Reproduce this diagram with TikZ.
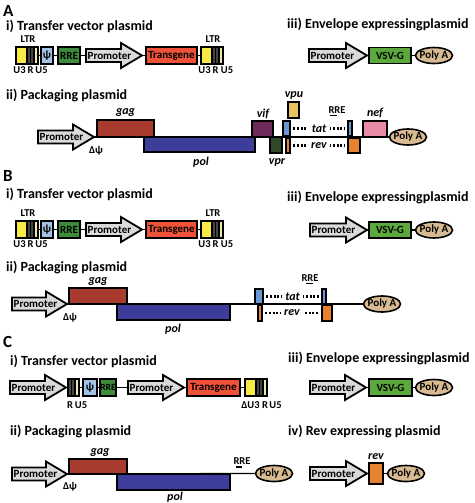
\documentclass[tikz,border=0pt]{standalone}
\usepackage{fontspec}
\setmainfont{Carlito}
\usetikzlibrary{shapes.geometric,backgrounds}
\definecolor{ltry}{HTML}{F7E948}
\definecolor{ltrd}{HTML}{454545}
\definecolor{ltrp}{HTML}{EFE9A8}
\definecolor{psic}{HTML}{A4C2E4}
\definecolor{rrec}{HTML}{3C8C3C}
\definecolor{promc}{HTML}{DADADA}
\definecolor{tgc}{HTML}{EF5238}
\definecolor{vsvc}{HTML}{5BA83C}
\definecolor{polyc}{HTML}{D8BB92}
\definecolor{gagc}{HTML}{A93A2E}
\definecolor{polc}{HTML}{3D3D9A}
\definecolor{vifc}{HTML}{6E2A58}
\definecolor{vprc}{HTML}{2F4A2A}
\definecolor{vpuc}{HTML}{E9C45E}
\definecolor{tatc}{HTML}{6A98D4}
\definecolor{revc}{HTML}{E8822E}
\definecolor{nefc}{HTML}{E98AA6}
\tikzset{
  boxline/.style={draw=black, line width=1.6pt},
  gbox/.style={draw=black, line width=1.6pt, inner sep=0pt, font=\fontsize{11}{11}\selectfont\bfseries},
  prombody/.style={draw=black, line width=1.8pt, fill=promc},
  promtext/.style={anchor=west, inner sep=0pt, font=\fontsize{11}{11}\selectfont\bfseries},
  polya/.style={ellipse, draw=black, line width=1.6pt, fill=polyc, minimum width=37pt, minimum height=16pt, inner sep=0pt},
  patext/.style={inner sep=0pt, font=\fontsize{11}{11}\selectfont\bfseries},
  conn/.style={line width=1.3pt},
  dots/.style={line width=2.2pt, dash pattern=on 2pt off 1.6pt, shorten <=2.5pt, shorten >=2.5pt},
  title/.style={anchor=west, inner sep=0pt, font=\fontsize{14}{14}\selectfont\bfseries},
  letter/.style={anchor=west, inner sep=0pt, font=\fontsize{17}{17}\selectfont\bfseries},
  small/.style={inner sep=0pt, font=\fontsize{10.5}{10.5}\selectfont\bfseries},
  gene/.style={inner sep=0pt, font=\fontsize{12}{12}\selectfont\bfseries\itshape},
  dlab/.style={gene, fill=white, inner xsep=3.5pt, inner ysep=1pt},
}
\newcommand\gb[7]{\node[gbox, fill=#2, minimum width={(#4-#3)*1pt}, minimum height={(#6-#5)*1pt}] (#1) at ({(#3+#4)/2},{(#5+#6)/2}) {#7};}
\newcommand\prom[4]{%
  \draw[prombody] (#2,#4-6.5) -- (#3-21,#4-6.5) -- (#3-21,#4-12.5) -- (#3,#4) -- (#3-21,#4+12.5) -- (#3-21,#4+6.5) -- (#2,#4+6.5) -- cycle;
  \node[promtext] (#1) at (#2+1.5,#4) {Promoter};
  \coordinate (#1-tip) at (#3,#4);
  \coordinate (#1-base) at (#2,#4);
}
\newcommand\ltr[4]{%
  \pgfmathsetmacro\ltrW{#4+11}
  \node[inner sep=0pt, minimum width=\ltrW pt, minimum height=17pt] (#1) at (#2+\ltrW/2,#3) {};
  \fill[ltry] (#2,#3-8.5) rectangle (#2+#4,#3+8.5);
  \fill[ltrd] (#2+#4,#3-8.5) rectangle (#2+#4+7,#3+8.5);
  \fill[ltrp] (#2+#4+7,#3-8.5) rectangle (#2+#4+11,#3+8.5);
  \draw[line width=1.2pt] (#2+#4,#3-8.5) -- (#2+#4,#3+8.5) (#2+#4+3.5,#3-8.5) -- (#2+#4+3.5,#3+8.5) (#2+#4+7,#3-8.5) -- (#2+#4+7,#3+8.5);
  \draw[boxline] (#1.north west) rectangle (#1.south east);
}
\newcommand\pa[3]{\node[polya] (#1) at (#2,#3) {}; \node[patext] at (#1) {Poly A};}
\begin{document}
\begin{tikzpicture}[x=1pt,y=-1pt]
\useasboundingbox (0,0) rectangle (474,503);
% ================= A =================
\node[letter] (lA) at (3,11) {A};
\node[title] (tA1) at (6,26) {i) Transfer vector plasmid};
\node[title] (tA3) at (287,24.5) {iii) Envelope expressingplasmid};
\node[title] (tA2) at (6,95.5) {ii) Packaging plasmid};
% A-i
\ltr{ltrA1}{16}{55.5}{11}
\gb{psiA}{psic}{41}{53}{47}{64}{ψ}
\gb{rreA}{rrec}{58}{80}{47}{64}{RRE}
\prom{promA1}{86}{142}{55.5}
\gb{tgA}{tgc}{146}{197}{47}{64}{Transgene}
\ltr{ltrA2}{201}{55.5}{11}
\node[small] at (28,39) {LTR};
\node[small] at (213,39) {LTR};
\node[small] at (19.5,70) {U3};
\node[small] at (30.5,70) {R};
\node[small] at (41.5,70) {U5};
\node[small] at (204.5,70) {U3};
\node[small] at (215.5,70) {R};
\node[small] at (227,70) {U5};
\begin{scope}[on background layer]
\draw[conn] (ltrA1.east) -- (psiA.west);
\draw[conn] (psiA.east) -- (rreA.west);
\draw[conn] (rreA.east) -- (promA1-base);
\draw[conn] (promA1-tip) -- (tgA.west);
\draw[conn] (tgA.east) -- (ltrA2.west);
\end{scope}
% A-iii
\prom{promA3}{309}{367}{55.5}
\gb{vsvA}{vsvc}{369}{411}{47.5}{63.5}{VSV-G}
\pa{paA3}{434}{55.5}
\begin{scope}[on background layer]
\draw[conn] (promA3-tip) -- (vsvA.west);
\draw[conn] (vsvA.east) -- (paA3.west);
\end{scope}
% A-ii
\prom{promA2}{38}{94}{137}
\gb{gagA}{gagc}{97}{154}{120}{137}{}
\gb{polA}{polc}{144}{255}{137}{152}{}
\gb{vifA}{vifc}{252}{273}{121}{137}{}
\gb{vprA}{vprc}{270}{282}{137}{153}{}
\gb{vpuA}{vpuc}{288}{299}{102}{118}{}
\gb{tatoA}{tatc}{283}{290}{121}{136}{}
\gb{revoA}{revc}{286}{290}{138}{153}{}
\gb{tattA}{tatc}{348}{352}{121}{136}{}
\gb{revtA}{revc}{348}{360}{138}{153}{}
\gb{nefA}{nefc}{363}{387}{121}{137}{}
\pa{paA2}{408}{137}
\begin{scope}[on background layer]
\draw[conn] (promA2-tip) -- (paA2.west);
\end{scope}
\draw[dots] (tatoA.east) -- node[dlab] {tat} (tattA.west);
\draw[dots] (revoA.east) -- node[dlab] {rev} (revtA.west);
\node[gene] at (125.5,112.5) {gag};
\node[gene] at (201,162) {pol};
\node[gene] at (263,113.5) {vif};
\node[gene] at (277,162) {vpr};
\node[gene] at (294,95) {vpu};
\node[gene] at (375,113) {nef};
\node[small] at (96,150.5) {Δψ};
\node[small] (rreLA) at (337,110) {RRE};
\draw[line width=1.3pt] ([xshift=-7pt,yshift=-2pt]rreLA.south) -- ([xshift=0pt,yshift=-2pt]rreLA.south);
% ================= B =================
\node[letter] (lB) at (3,176) {B};
\node[title] (tB1) at (6,194.5) {i) Transfer vector plasmid};
\node[title] (tB3) at (287,197.5) {iii) Envelope expressingplasmid};
\node[title] (tB2) at (6,267) {ii) Packaging plasmid};
% B-i
\ltr{ltrB1}{16}{229.5}{11}
\gb{psiB}{psic}{41}{53}{221}{238}{ψ}
\gb{rreB}{rrec}{58}{80}{221}{238}{RRE}
\prom{promB1}{86}{142}{229.5}
\gb{tgB}{tgc}{146}{197}{221}{238}{Transgene}
\ltr{ltrB2}{201}{229.5}{11}
\node[small] at (28,213.5) {LTR};
\node[small] at (213,213.5) {LTR};
\node[small] at (19.5,244.5) {U3};
\node[small] at (30.5,244.5) {R};
\node[small] at (41.5,244.5) {U5};
\node[small] at (204.5,244.5) {U3};
\node[small] at (215.5,244.5) {R};
\node[small] at (227,244.5) {U5};
\begin{scope}[on background layer]
\draw[conn] (ltrB1.east) -- (psiB.west);
\draw[conn] (psiB.east) -- (rreB.west);
\draw[conn] (rreB.east) -- (promB1-base);
\draw[conn] (promB1-tip) -- (tgB.west);
\draw[conn] (tgB.east) -- (ltrB2.west);
\end{scope}
% B-iii
\prom{promB3}{310}{367}{230}
\gb{vsvB}{vsvc}{369}{411}{222}{238}{VSV-G}
\pa{paB3}{434}{230}
\begin{scope}[on background layer]
\draw[conn] (promB3-tip) -- (vsvB.west);
\draw[conn] (vsvB.east) -- (paB3.west);
\end{scope}
% B-ii
\prom{promB2}{12}{67}{304}
\gb{gagB}{gagc}{69}{127}{288}{304}{}
\gb{polB}{polc}{117}{230}{304}{320}{}
\gb{tatoB}{tatc}{255}{263}{289}{304}{}
\gb{revoB}{revc}{258}{262}{305}{321}{}
\gb{tattB}{tatc}{322}{326}{289}{304}{}
\gb{revtB}{revc}{322}{332}{305}{321}{}
\pa{paB2}{382}{304}
\begin{scope}[on background layer]
\draw[conn] (promB2-tip) -- (paB2.west);
\end{scope}
\draw[dots] (tatoB.east) -- node[dlab] {tat} (tattB.west);
\draw[dots] (revoB.east) -- node[dlab] {rev} (revtB.west);
\node[gene] at (98,282) {gag};
\node[gene] at (173,329) {pol};
\node[small] at (70,317.5) {Δψ};
\node[small] (rreLB) at (310,278) {RRE};
\draw[line width=1.3pt] ([xshift=-4pt,yshift=-2pt]rreLB.south) -- ([xshift=3pt,yshift=-2pt]rreLB.south);
% ================= C =================
\node[letter] (lC) at (3,342) {C};
\node[title] (tC1) at (10,361) {i) Transfer vector plasmid};
\node[title] (tC3) at (288,358) {iii) Envelope expressingplasmid};
\node[title] (tC2) at (10,431) {ii) Packaging plasmid};
\node[title] (tC4) at (288,431) {iv) Rev expressing plasmid};
% C-i
\prom{promC1}{10}{66}{387.5}
\ltr{ltrC1}{68}{387.5}{0}
\gb{psiC}{psic}{83}{97}{379}{396}{ψ}
\gb{rreC}{rrec}{100}{116}{379}{396}{\fontsize{9.5}{9.5}\selectfont RRE}
\prom{promC2}{128}{184}{387.5}
\gb{tgC}{tgc}{187}{240}{379}{396}{Transgene}
\ltr{ltrC2}{245}{387.5}{11}
\node[small] at (70,405.5) {R};
\node[small] at (81,405.5) {U5};
\node[small] at (250.5,405.5) {ΔU3};
\node[small] at (265,405.5) {R};
\node[small] at (275.5,405.5) {U5};
\begin{scope}[on background layer]
\draw[conn] (promC1-tip) -- (ltrC1.west);
\draw[conn] (ltrC1.east) -- (psiC.west);
\draw[conn] (psiC.east) -- (rreC.west);
\draw[conn] (rreC.east) -- (promC2-base);
\draw[conn] (promC2-tip) -- (tgC.west);
\draw[conn] (tgC.east) -- (ltrC2.west);
\end{scope}
% C-iii
\prom{promC3}{310}{366}{387.5}
\gb{vsvC}{vsvc}{369}{412}{379}{396}{VSV-G}
\pa{paC3}{434}{387.5}
\begin{scope}[on background layer]
\draw[conn] (promC3-tip) -- (vsvC.west);
\draw[conn] (vsvC.east) -- (paC3.west);
\end{scope}
% C-ii
\prom{promC2p}{12}{67}{474}
\gb{gagC}{gagc}{69}{127}{459}{474}{}
\gb{polC}{polc}{117}{230}{474}{490}{}
\pa{paC2}{274}{473.5}
\begin{scope}[on background layer]
\draw[conn] (promC2p-tip) -- (paC2.west);
\end{scope}
\node[gene] at (100,452.5) {gag};
\node[gene] at (175,497.5) {pol};
\node[small] at (70,486.5) {Δψ};
\node[small] (rreLC) at (242,461.5) {RRE};
\draw[line width=1.3pt] ([xshift=-6pt,yshift=-2pt]rreLC.south) -- ([xshift=0pt,yshift=-2pt]rreLC.south);
% C-iv
\prom{promC4}{310}{367}{473.5}
\gb{revC}{revc}{369}{383}{463}{484}{}
\pa{paC4}{406}{473.5}
\node[gene] at (376,456.5) {rev};
\begin{scope}[on background layer]
\draw[conn] (promC4-tip) -- (revC.west);
\draw[conn] (revC.east) -- (paC4.west);
\end{scope}
\end{tikzpicture}
\end{document}
